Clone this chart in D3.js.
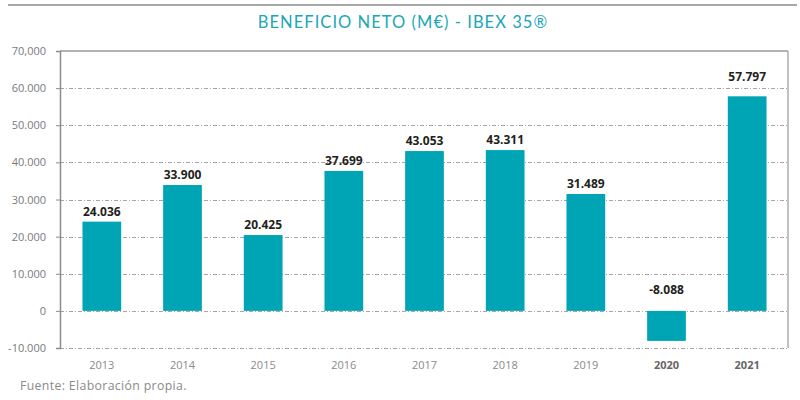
<!DOCTYPE html>
<html>
<head>
<meta charset="utf-8">
<script src="https://cdn.jsdelivr.net/npm/d3@7"></script>
<style>
  html, body { margin: 0; padding: 0; background: #fff; }
  svg { display: block; }
</style>
</head>
<body>
<svg id="chart" width="800" height="400"></svg>
<script>
const years = ["2013","2014","2015","2016","2017","2018","2019","2020","2021"];
const values = [24036, 33900, 20425, 37699, 43053, 43311, 31489, -8088, 57797];
const valueLabels = ["24.036","33.900","20.425","37.699","43.053","43.311","31.489","-8.088","57.797"];
const boldYears = ["2020","2021"];
const yTicks = [70000, 60000, 50000, 40000, 30000, 20000, 10000, 0, -10000];
const yTickLabels = ["70,000","60.000","50.000","40.000","30.000","20.000","10.000","0","-10.000"];
const title = "BENEFICIO NETO (M€) - IBEX 35®";
const source = "Fuente: Elaboración propia.";

(function () {
const svg = d3.select("#chart");
const mLeft = 60, mRight = 788, mTop = 51, mBottom = 348;
const teal = "#00a5b5";

const x = d3.scaleBand().domain(years).range([61.5, 787.5]).paddingInner(0.52).paddingOuter(0.26);
const y = d3.scaleLinear().domain([-10000, 70000]).range([mBottom, mTop]);

// top rule
svg.append("line").attr("x1", 8).attr("x2", 797).attr("y1", 5).attr("y2", 5)
  .attr("stroke", "#a8a8a8").attr("stroke-width", 2);

// title
svg.append("text").attr("x", 403).attr("y", 28).attr("text-anchor", "middle")
  .attr("font-family", "Lato, 'Open Sans', sans-serif").attr("font-size", 16.5)
  .attr("fill", "#1aa7b6").attr("letter-spacing", 1.05).text(title);

// gridlines
svg.append("g").selectAll("line").data(yTicks.filter(d => d !== 70000)).join("line")
  .attr("x1", mLeft).attr("x2", mRight)
  .attr("y1", d => Math.round(y(d)) + 0.5).attr("y2", d => Math.round(y(d)) + 0.5)
  .attr("stroke", "#a6a6a6").attr("stroke-width", 1).attr("stroke-dasharray", "4,2,1,2");

// top and right border
svg.append("line").attr("x1", mLeft).attr("x2", mRight).attr("y1", y(70000)).attr("y2", y(70000))
  .attr("stroke", "#9a9a9a").attr("stroke-width", 1.3);
svg.append("line").attr("x1", mRight).attr("x2", mRight).attr("y1", y(70000)).attr("y2", y(-10000))
  .attr("stroke", "#a0a0a0").attr("stroke-width", 1.3);

// y axis
const yAxis = d3.axisLeft(y).tickValues(yTicks).tickFormat((d, i) => yTickLabels[i]).tickSize(4).tickPadding(10);
const gy = svg.append("g").attr("transform", `translate(${mLeft},0)`).call(yAxis);
gy.select(".domain").attr("stroke", "#8c8c8c").attr("stroke-width", 1.5);
gy.selectAll(".tick line").attr("stroke", "#8c8c8c");
gy.selectAll(".tick text").attr("font-family", "'Open Sans', sans-serif").attr("font-size", 11).attr("fill", "#7a7a7a");

// bars
svg.append("g").selectAll("rect").data(values).join("rect")
  .attr("x", (d, i) => x(years[i]))
  .attr("width", x.bandwidth())
  .attr("y", d => y(Math.max(0, d)))
  .attr("height", d => Math.abs(y(d) - y(0)))
  .attr("fill", teal);

// value labels (the last label sits higher above its bar, as in the source)
svg.append("g").selectAll("text").data(values).join("text")
  .attr("x", (d, i) => x(years[i]) + x.bandwidth() / 2)
  .attr("y", (d, i) => d < 0 ? y(0) - 17 : (i === values.length - 1 ? y(d) - 15 : y(d) - 6))
  .attr("text-anchor", "middle")
  .attr("font-family", "'Open Sans', sans-serif").attr("font-size", 12).attr("font-weight", "bold")
  .attr("fill", "#231f20").text((d, i) => valueLabels[i]);

// x labels
svg.append("g").selectAll("text").data(years).join("text")
  .attr("x", d => x(d) + x.bandwidth() / 2)
  .attr("y", 369)
  .attr("text-anchor", "middle")
  .attr("font-family", "'Open Sans', sans-serif").attr("font-size", 11)
  .attr("font-weight", d => boldYears.includes(d) ? "bold" : "normal")
  .attr("fill", d => boldYears.includes(d) ? "#666" : "#8a8a8a").text(d => d);

// source
svg.append("text").attr("x", 20).attr("y", 390)
  .attr("font-family", "'Open Sans', sans-serif").attr("font-size", 12.3)
  .attr("fill", "#8a8a8a").attr("letter-spacing", 0.35).text(source);
})();
</script>
</body>
</html>
